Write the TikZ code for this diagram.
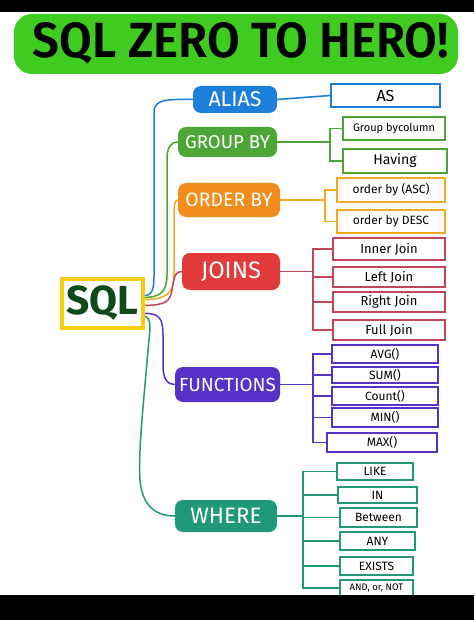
\documentclass[tikz,border=0pt]{standalone}
\usepackage{fontspec}
\setmainfont{Fira Sans}
\usetikzlibrary{calc}
\definecolor{cBlue}{HTML}{1C7FD9}
\definecolor{cGreen}{HTML}{4CA535}
\definecolor{cOrange}{HTML}{F28C1C}
\definecolor{cRed}{HTML}{E23B3B}
\definecolor{cPurple}{HTML}{5632C8}
\definecolor{cTeal}{HTML}{1F9977}
\definecolor{cTitle}{HTML}{3FCB1F}
\definecolor{cYellow}{HTML}{F2CF0A}
\definecolor{cSqlText}{HTML}{0E4A1C}
\definecolor{lOrange}{HTML}{EDAA22}
\definecolor{lRed}{HTML}{C4445A}
\tikzset{
  catbox/.style={rounded corners=8pt, text=white, inner sep=0pt},
  leafbox/.style={draw, line width=1.8pt, fill=white, inner sep=0pt, text=black, font=\fontsize{12}{12}\selectfont},
  conn/.style={line width=1.6pt},
  link/.style={line width=1.5pt},
}
\begin{document}
\begin{tikzpicture}[x=1pt,y=-1pt]
\useasboundingbox (0,0) rectangle (474,620);
\fill[white] (0,0) rectangle (474,620);
\fill[black] (0,0) rectangle (474,12);
% title
\fill[cTitle, rounded corners=18pt] (14,14) rectangle (458,74);
\node[anchor=base, inner sep=0pt] (title) at (241,58) {\resizebox{416pt}{35pt}{\fontspec{Fira Sans SemiBold}SQL ZERO TO HERO!}};
% root
\node[draw=cYellow, line width=4pt, fill=white, minimum width=81pt, minimum height=49pt, inner sep=0pt, text=cSqlText] (sql) at (102.5,303.5) {\resizebox{72pt}{!}{\bfseries SQL}};
% categories
\node[catbox, fill=cBlue, minimum width=84pt, minimum height=27pt] (alias) at (235,99.5) {\resizebox{53pt}{!}{ALIAS}};
\node[catbox, fill=cGreen, minimum width=99pt, minimum height=30pt] (groupby) at (227.5,142) {\resizebox{85pt}{!}{GROUP BY}};
\node[catbox, fill=cOrange, minimum width=102pt, minimum height=34pt] (orderby) at (229,200) {\resizebox{87pt}{!}{ORDER BY}};
\node[catbox, fill=cRed, minimum width=98pt, minimum height=37pt] (joins) at (231,271.5) {\resizebox{60pt}{!}{JOINS}};
\node[catbox, fill=cPurple, minimum width=105pt, minimum height=35pt] (functions) at (227.5,384.5) {\resizebox{97pt}{!}{FUNCTIONS}};
\node[catbox, fill=cTeal, minimum width=102pt, minimum height=32pt] (where) at (226,516) {\resizebox{71pt}{!}{WHERE}};
% root links
\draw[link, cBlue] ($(sql.east)+(0,-8)$) .. controls (152,295) and (154,290) .. (154,275) -- (154,112) .. controls (154,100) and (165,99) .. (alias.west);
\draw[link, cGreen] ($(sql.east)+(0,-6)$) .. controls (160,297) and (167,292) .. (167,275) -- (167,160) .. controls (167,148) and (170,142) .. (groupby.west);
\draw[link, lOrange] ($(sql.east)+(0,-4)$) .. controls (168,299) and (174,292) .. (174,275) -- (174,215) .. controls (174,205) and (175,200) .. (orderby.west);
\draw[link, lRed] ($(sql.east)+(0,2)$) .. controls (165,305) and (170,302) .. (172,290) .. controls (174,275) and (176,271.5) .. (joins.west);
\draw[link, cPurple] ($(sql.east)+(0,10)$) .. controls (160,313) and (163,320) .. (163,335) -- (163,365) .. controls (163,380) and (168,384.5) .. (functions.west);
\draw[link, cTeal] ($(sql.east)+(0,13)$) .. controls (152,318) and (150,330) .. (148,350) .. controls (144,400) and (138,450) .. (140,480) .. controls (142,505) and (155,516) .. (where.west);
% leaves
\node[leafbox, draw=cBlue, minimum width=109pt, minimum height=23pt, font=\fontsize{16}{16}\selectfont] (as) at (385.5,95.5) {AS};
\node[leafbox, draw=cGreen, minimum width=102pt, minimum height=23pt, font=\fontsize{11}{11}\selectfont] (gbc) at (394,128.5) {Group bycolumn};
\node[leafbox, draw=cGreen, minimum width=104pt, minimum height=24pt, font=\fontsize{14}{14}\selectfont] (having) at (395,161) {Having};
\node[leafbox, draw=lOrange, minimum width=108pt, minimum height=24pt, font=\fontsize{12}{12}\selectfont] (asc) at (391,190) {order by (ASC)};
\node[leafbox, draw=lOrange, minimum width=108pt, minimum height=23pt, font=\fontsize{12}{12}\selectfont] (desc) at (391,221.5) {order by DESC};
\node[leafbox, draw=lRed, minimum width=112pt, minimum height=22pt, font=\fontsize{13}{13}\selectfont] (inner) at (389,249) {Inner Join};
\node[leafbox, draw=lRed, minimum width=112pt, minimum height=20pt, font=\fontsize{13}{13}\selectfont] (left) at (389,277) {Left Join};
\node[leafbox, draw=lRed, minimum width=112pt, minimum height=20pt, font=\fontsize{13}{13}\selectfont] (right) at (389,302) {Right Join};
\node[leafbox, draw=lRed, minimum width=112pt, minimum height=20pt, font=\fontsize{13}{13}\selectfont] (full) at (389,330) {Full Join};
\node[leafbox, draw=cPurple, minimum width=106pt, minimum height=18pt] (avg) at (385,354) {AVG()};
\node[leafbox, draw=cPurple, minimum width=106pt, minimum height=16pt] (sum) at (385,375) {SUM()};
\node[leafbox, draw=cPurple, minimum width=106pt, minimum height=18pt] (count) at (385,396) {Count()};
\node[leafbox, draw=cPurple, minimum width=106pt, minimum height=19pt] (min) at (385,417.5) {MIN()};
\node[leafbox, draw=cPurple, minimum width=110pt, minimum height=19pt] (max) at (382,442.5) {MAX()};
\node[leafbox, draw=cTeal, minimum width=76pt, minimum height=17pt] (like) at (375,471.5) {LIKE};
\node[leafbox, draw=cTeal, minimum width=79pt, minimum height=16pt] (in) at (377.5,495) {IN};
\node[leafbox, draw=cTeal, minimum width=77pt, minimum height=19pt] (between) at (378.5,517.5) {Between};
\node[leafbox, draw=cTeal, minimum width=75pt, minimum height=18pt] (any) at (377.5,541) {ANY};
\node[leafbox, draw=cTeal, minimum width=73pt, minimum height=18pt] (exists) at (376.5,566) {EXISTS};
\node[leafbox, draw=cTeal, minimum width=73pt, minimum height=16pt, font=\fontsize{9.5}{9.5}\selectfont] (aon) at (376.5,588) {AND, or, NOT};
% branch connectors
\draw[conn, cBlue] (alias.east) -- (as.west);
\coordinate (gbus) at (330,142);
\draw[conn, cGreen] (groupby.east) -- (gbus);
\draw[conn, cGreen] (gbc.west) -| (gbus) |- (having.west);
\coordinate (obus) at (325,200);
\draw[conn, lOrange] (orderby.east) -- (obus);
\draw[conn, lOrange] (asc.west) -| (obus) |- (desc.west);
\coordinate (jbus) at (313,271.5);
\draw[conn, lRed] (joins.east) -- (jbus);
\draw[conn, lRed] (inner.west) -| (jbus) |- (full.west);
\draw[conn, lRed] (left.west) -| (jbus);
\draw[conn, lRed] (right.west) -| (jbus);
\coordinate (fbus) at (313,384.5);
\draw[conn, cPurple] (functions.east) -- (fbus);
\draw[conn, cPurple] (avg.west) -| (fbus) |- (max.west);
\draw[conn, cPurple] (sum.west) -| (fbus);
\draw[conn, cPurple] (count.west) -| (fbus);
\draw[conn, cPurple] (min.west) -| (fbus);
\coordinate (wbus) at (303,516);
\draw[conn, cTeal] (where.east) -- (wbus);
\draw[conn, cTeal] (like.west) -| (wbus) |- (aon.west);
\draw[conn, cTeal] (in.west) -| (wbus);
\draw[conn, cTeal] (between.west) -| (wbus);
\draw[conn, cTeal] (any.west) -| (wbus);
\draw[conn, cTeal] (exists.west) -| (wbus);
% bottom band
\fill[black] (0,595) rectangle (474,620);
\end{tikzpicture}
\end{document}
